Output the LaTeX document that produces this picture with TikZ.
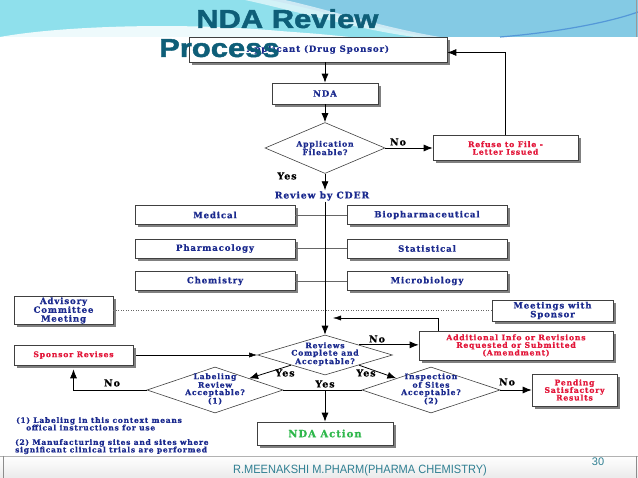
\documentclass[tikz,border=0pt]{standalone}
\usepackage{fontspec}
\usetikzlibrary{shapes.geometric,arrows.meta,shadows}
\newfontfamily\dfont[LetterSpace=10,FakeBold=0.6]{DejaVu Serif}
\newfontfamily\sfont{Liberation Sans}
\newfontfamily\hfont[FakeBold=1.5]{Liberation Sans}
\definecolor{navy}{HTML}{1B2A8E}
\definecolor{redt}{HTML}{E3173A}
\definecolor{greent}{HTML}{2EB84B}
\definecolor{titlec}{HTML}{0E5E78}
\definecolor{footc}{HTML}{2F7F92}
\definecolor{hdrL}{HTML}{8FE0EC}
\definecolor{hdrR}{HTML}{84CAE4}
\tikzset{
 box/.style={draw=black!75, line width=0.6pt, fill=white, inner sep=0pt, align=center,
   drop shadow={shadow xshift=3pt, shadow yshift=-3pt, fill=black!50, opacity=1}},
 dia/.style={diamond, draw=black!75, line width=0.6pt, fill=white, inner sep=0pt},
 bt/.style={font=\dfont\bfseries\fontsize{8.6}{8.8}\selectfont, text=navy},
 rt/.style={font=\dfont\bfseries\fontsize{7.7}{7.6}\selectfont, text=redt},
 dt/.style={font=\dfont\bfseries\fontsize{7.7}{7.4}\selectfont, text=navy, align=center, inner sep=0pt},
 lbl/.style={font=\dfont\bfseries\fontsize{9.5}{9.5}\selectfont, text=black, inner sep=0pt},
 fnt/.style={anchor=north west, font=\dfont\bfseries\fontsize{7.5}{7.5}\selectfont, text=navy, align=left, inner sep=0pt},
 arr/.style={-{Latex[length=9pt,width=7pt]}, line width=0.8pt, black},
 tarr/.style={-{Latex[length=8pt,width=5pt]}, line width=0.5pt, black},
 conn/.style={line width=0.5pt, black!60},
}
\begin{document}
\begin{tikzpicture}[x=1pt,y=-1pt]
\useasboundingbox (0,0) rectangle (638,478);
% header background
\fill[hdrL] (0,0) rectangle (638,37);
\fill[hdrR] (270,0) .. controls (330,12) and (380,30) .. (430,37) -- (638,37) -- (638,0) -- cycle;
\fill[white, opacity=0.6] (245,0) .. controls (300,12) and (360,30) .. (415,37) -- (440,37) .. controls (385,28) and (330,10) .. (285,0) -- cycle;
\fill[white, opacity=0.85] (0,37) .. controls (60,26) and (180,22) .. (280,31) .. controls (320,34) .. (350,37) -- cycle;
\draw[line width=1.2pt, color=cyan!60!blue!70] (500,37) .. controls (560,32) and (610,22) .. (638,12);
\draw[black!40, line width=0.5pt] (636,0) -- (636,37);
% footer
\shade[top color=white, bottom color=black!8] (0,456) rectangle (638,478);
\draw[black!30, line width=0.5pt] (0,456) -- (638,456);
\draw[black!45, line width=0.5pt] (3,456) -- (3,478);
\draw[black!45, line width=0.5pt] (636,456) -- (636,478);
% boxes
\node[box, bt, minimum width=258pt, minimum height=25pt] (app) at (318,49.5) {Applicant (Drug Sponsor)};
\node[box, bt, minimum width=106pt, minimum height=21pt] (nda) at (325,93.5) {NDA};
\node[dia, minimum width=120pt, minimum height=51pt] (fil) at (325,148) {};
\node[dt] (filt) at (fil) {Application\\Fileable?};
\node[box, rt, minimum width=145pt, minimum height=25pt] (ref) at (505.5,148) {Refuse to File -\\Letter Issued};
\node[bt, font=\dfont\bfseries\fontsize{9.2}{9.5}\selectfont, inner sep=1pt] (cder) at (322,196) {Review by CDER};
\node[box, bt, minimum width=160pt, minimum height=19pt] (med) at (215,215) {Medical};
\node[box, bt, minimum width=160pt, minimum height=19pt] (pha) at (215,248.5) {Pharmacology};
\node[box, bt, minimum width=160pt, minimum height=19pt] (che) at (215,281) {Chemistry};
\node[box, bt, minimum width=160pt, minimum height=19pt] (bio) at (427,215) {Biopharmaceutical};
\node[box, bt, minimum width=160pt, minimum height=19pt] (sta) at (427,248.5) {Statistical};
\node[box, bt, minimum width=160pt, minimum height=19pt] (mic) at (427,281) {Microbiology};
\node[box, bt, minimum width=99pt, minimum height=28pt] (adv) at (63.5,310.5) {Advisory\\Committee\\Meeting};
\node[box, bt, minimum width=121pt, minimum height=21pt] (mtg) at (552.5,310.5) {Meetings with\\Sponsor};
\node[box, rt, minimum width=194pt, minimum height=29pt] (add) at (516,345.5) {Additional Info or Revisions\\Requested or Submitted\\(Amendment)};
\node[dia, minimum width=135pt, minimum height=40pt] (rev) at (325,355) {};
\node[dt] (revt) at ([yshift=1pt]rev.center) {Reviews\\Complete and\\Acceptable?};
\node[box, rt, minimum width=119pt, minimum height=20pt] (spr) at (73.5,355) {Sponsor Revises};
\node[dia, minimum width=136pt, minimum height=46pt] (lab) at (215,390) {};
\node[dt] (labt) at ([yshift=1pt]lab.center) {Labeling\\Review\\Acceptable?\\(1)};
\node[dia, minimum width=138pt, minimum height=46pt] (ins) at (431,390) {};
\node[dt] (inst) at ([yshift=1pt]ins.center) {Inspection\\of Sites\\Acceptable?\\(2)};
\node[box, rt, minimum width=85pt, minimum height=32pt] (pen) at (574.5,390) {Pending\\Satisfactory\\Results};
\node[box, font=\dfont\bfseries\fontsize{10}{10}\selectfont, text=greent, minimum width=136pt, minimum height=23pt] (act) at (325,433.5) {NDA Action};
% connectors
\draw[arr] (app.south -| nda.north) -- (nda.north);
\draw[arr] (nda.south) -- (fil.north);
\draw[arr] (fil.east) -- (ref.west);
\draw[arr] (ref.north) |- ([yshift=-3pt]app.east);
\draw[arr] (fil.south) -- (cder.north -| fil.south);
\draw[conn] (med.east) -- (bio.west);
\draw[conn] (pha.east) -- (sta.west);
\draw[conn] (che.east) -- (mic.west);
\draw[arr] (cder.south -| rev.north) -- (rev.north);
\draw[dotted, line width=0.5pt, black!60] (adv.east) -- (mtg.west);
\coordinate (amtip) at (333,318);
\draw[tarr] ([xshift=20pt]add.north west) |- (amtip);
\draw[arr] (rev.north east) -- (rev.north east -| add.west);
\draw[tarr] ([xshift=3pt]spr.east) -- (rev.west);
\draw[arr] (rev.south west) -- (lab.north east);
\draw[arr] (rev.south east) -- (ins.north west);
\draw[line width=0.8pt] (lab.east) -- (ins.west);
\coordinate (mid) at (lab.east -| act.north);
\draw[arr] (mid) -- (act.north);
\draw[arr] (ins.east) -- (pen.west);
\draw[arr, shorten >=4pt] (lab.west) -| (spr.south);
% labels
\node[lbl] (n1) at (398,142) {No};
\node[lbl] (y1) at (287,176) {Yes};
\node[lbl] (n2) at (377,339) {No};
\node[lbl] (y2) at (285,373) {Yes};
\node[lbl] (y3) at (366,373) {Yes};
\node[lbl] (y4) at (325,384) {Yes};
\node[lbl] (n3) at (507,382) {No};
\node[lbl] (n4) at (112,383) {No};
% footnotes
\node[fnt] (fn1) at (16,417) {(1) Labeling in this context means\\\hspace*{10pt}offical instructions for use};
\node[fnt] (fn2) at (15,439) {(2) Manufacturing sites and sites where\\significant clinical trials are performed};
% title
\node[anchor=base west, inner sep=0pt, text=titlec, font=\hfont\bfseries\fontsize{26}{26}\selectfont] (t1) at (196,28) {\scalebox{1.19}[1]{NDA Review}};
\node[anchor=base west, inner sep=0pt, text=titlec, font=\hfont\bfseries\fontsize{26}{26}\selectfont] (t2) at (159,57) {\scalebox{1.19}[1]{Process}};
% footer text
\node[anchor=base, inner sep=0pt, text=footc, font=\sfont\fontsize{12}{12}\selectfont] (ft) at (360,474) {\scalebox{0.92}[1]{R.MEENAKSHI M.PHARM(PHARMA CHEMISTRY)}};
\node[anchor=base, inner sep=0pt, text=footc, font=\sfont\fontsize{11}{11}\selectfont] (pg) at (598,466) {30};
\end{tikzpicture}
\end{document}
